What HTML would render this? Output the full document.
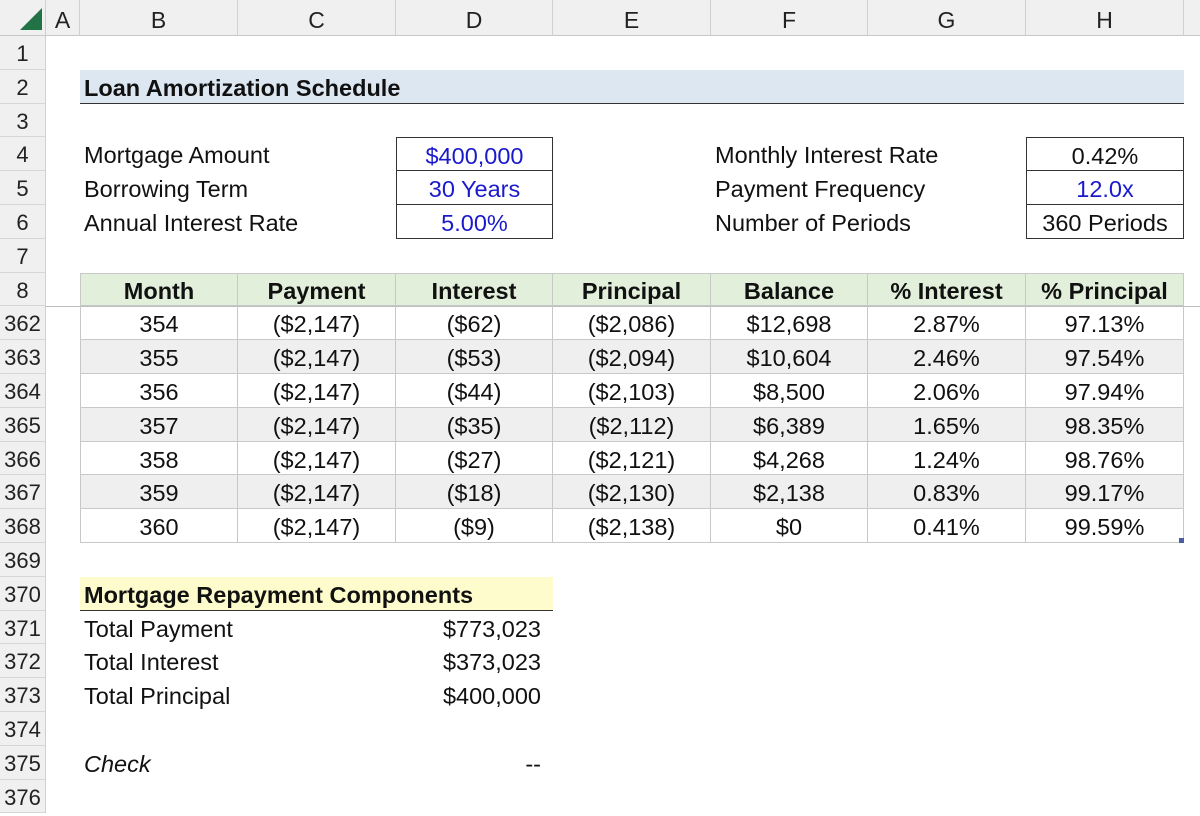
<!DOCTYPE html>
<html><head><meta charset="utf-8"><style>
*{margin:0;padding:0;box-sizing:border-box}
body{width:1200px;height:784px;overflow:hidden;background:#fff;position:relative;font-family:"Liberation Sans",Arial,sans-serif;color:#111}
div{position:absolute}
.c{height:33.8px;line-height:36px;font-size:23.5px;white-space:nowrap}
.ctr{text-align:center}.rt{text-align:right;padding-right:12px}.lf{padding-left:4px}
.b{font-weight:bold}.blue{color:#1a1acc}
.rh{left:0;width:46px;text-align:center;font-size:22px;color:#222;height:33.8px;line-height:36px;background:#f0f0f0;border-bottom:1px solid #d6d6d6;border-right:1px solid #cfcfcf}
.ch{top:0;height:36px;line-height:40px;text-align:center;font-size:23px;background:#f0f0f0;border-right:1px solid #d0d0d0;border-bottom:1px solid #c8c8c8;color:#222}
.box{border:1px solid #333}
.tr{left:80px;width:1104px;height:33.8px}
.g{border-right:1px solid #c8c8c8;border-bottom:1px solid #c8c8c8}
</style></head><body>
<div class="ch" style="left:0;width:46px"></div>
<div style="left:20px;top:8px;width:0;height:0;border-left:22px solid transparent;border-bottom:22px solid #217346"></div>
<div class="ch" style="left:46px;width:34px">A</div>
<div class="ch" style="left:80px;width:158px">B</div>
<div class="ch" style="left:238px;width:158px">C</div>
<div class="ch" style="left:396px;width:157px">D</div>
<div class="ch" style="left:553px;width:158px">E</div>
<div class="ch" style="left:711px;width:157px">F</div>
<div class="ch" style="left:868px;width:158px">G</div>
<div class="ch" style="left:1026px;width:158px">H</div>
<div class="ch" style="left:1184px;width:16px;border-right:none"></div>

<div class="rh" style="top:36px">1</div>
<div class="rh" style="top:69.8px">2</div>
<div class="rh" style="top:103.6px">3</div>
<div class="rh" style="top:137.4px">4</div>
<div class="rh" style="top:171.2px">5</div>
<div class="rh" style="top:205px">6</div>
<div class="rh" style="top:238.8px">7</div>
<div class="rh" style="top:272.6px">8</div>
<div class="rh" style="top:306.4px">362</div>
<div class="rh" style="top:340.2px">363</div>
<div class="rh" style="top:374px">364</div>
<div class="rh" style="top:407.8px">365</div>
<div class="rh" style="top:441.6px">366</div>
<div class="rh" style="top:475.4px">367</div>
<div class="rh" style="top:509.2px">368</div>
<div class="rh" style="top:543px">369</div>
<div class="rh" style="top:576.8px">370</div>
<div class="rh" style="top:610.6px">371</div>
<div class="rh" style="top:644.4px">372</div>
<div class="rh" style="top:678.2px">373</div>
<div class="rh" style="top:712px">374</div>
<div class="rh" style="top:745.8px">375</div>
<div class="rh" style="top:779.6px">376</div>

<div style="left:46px;top:306px;width:1154px;height:1px;background:#bdbdbd"></div>

<div class="c b" style="left:80px;top:69.8px;width:1104px;background:#dde7f2;border-bottom:1px solid #333;padding-left:4px">Loan Amortization Schedule</div>

<div class="c lf" style="left:80px;top:137.4px">Mortgage Amount</div>
<div class="c lf" style="left:80px;top:171.2px">Borrowing Term</div>
<div class="c lf" style="left:80px;top:205px">Annual Interest Rate</div>
<div class="c ctr blue box" style="left:396px;top:137.4px;width:157px">$400,000</div>
<div class="c ctr blue box" style="left:396px;top:171.2px;width:157px;border-top:none">30 Years</div>
<div class="c ctr blue box" style="left:396px;top:205px;width:157px;border-top:none">5.00%</div>

<div class="c lf" style="left:711px;top:137.4px">Monthly Interest Rate</div>
<div class="c lf" style="left:711px;top:171.2px">Payment Frequency</div>
<div class="c lf" style="left:711px;top:205px">Number of Periods</div>
<div class="c ctr box" style="left:1026px;top:137.4px;width:158px">0.42%</div>
<div class="c ctr blue box" style="left:1026px;top:171.2px;width:158px;border-top:none">12.0x</div>
<div class="c ctr box" style="left:1026px;top:205px;width:158px;border-top:none">360 Periods</div>

<div style="left:80px;top:272.6px;width:1104px;height:33.8px;background:#e2efda;border-top:1px solid #c8c8c8"></div>
<div class="c b ctr g" style="left:80px;top:272.6px;width:158px;border-left:1px solid #c8c8c8">Month</div>
<div class="c b ctr g" style="left:238px;top:272.6px;width:158px">Payment</div>
<div class="c b ctr g" style="left:396px;top:272.6px;width:157px">Interest</div>
<div class="c b ctr g" style="left:553px;top:272.6px;width:158px">Principal</div>
<div class="c b ctr g" style="left:711px;top:272.6px;width:157px">Balance</div>
<div class="c b ctr g" style="left:868px;top:272.6px;width:158px">% Interest</div>
<div class="c b ctr g" style="left:1026px;top:272.6px;width:158px">% Principal</div>

<div class="tr" style="top:340.2px;background:#efefef"></div>
<div class="tr" style="top:407.8px;background:#efefef"></div>
<div class="tr" style="top:475.4px;background:#efefef"></div>

<div class="c ctr g" style="left:80px;top:306.4px;width:158px;border-left:1px solid #c8c8c8">354</div>
<div class="c ctr g" style="left:238px;top:306.4px;width:158px">($2,147)</div>
<div class="c ctr g" style="left:396px;top:306.4px;width:157px">($62)</div>
<div class="c ctr g" style="left:553px;top:306.4px;width:158px">($2,086)</div>
<div class="c ctr g" style="left:711px;top:306.4px;width:157px">$12,698</div>
<div class="c ctr g" style="left:868px;top:306.4px;width:158px">2.87%</div>
<div class="c ctr g" style="left:1026px;top:306.4px;width:158px">97.13%</div>

<div class="c ctr g" style="left:80px;top:340.2px;width:158px;border-left:1px solid #c8c8c8">355</div>
<div class="c ctr g" style="left:238px;top:340.2px;width:158px">($2,147)</div>
<div class="c ctr g" style="left:396px;top:340.2px;width:157px">($53)</div>
<div class="c ctr g" style="left:553px;top:340.2px;width:158px">($2,094)</div>
<div class="c ctr g" style="left:711px;top:340.2px;width:157px">$10,604</div>
<div class="c ctr g" style="left:868px;top:340.2px;width:158px">2.46%</div>
<div class="c ctr g" style="left:1026px;top:340.2px;width:158px">97.54%</div>

<div class="c ctr g" style="left:80px;top:374px;width:158px;border-left:1px solid #c8c8c8">356</div>
<div class="c ctr g" style="left:238px;top:374px;width:158px">($2,147)</div>
<div class="c ctr g" style="left:396px;top:374px;width:157px">($44)</div>
<div class="c ctr g" style="left:553px;top:374px;width:158px">($2,103)</div>
<div class="c ctr g" style="left:711px;top:374px;width:157px">$8,500</div>
<div class="c ctr g" style="left:868px;top:374px;width:158px">2.06%</div>
<div class="c ctr g" style="left:1026px;top:374px;width:158px">97.94%</div>

<div class="c ctr g" style="left:80px;top:407.8px;width:158px;border-left:1px solid #c8c8c8">357</div>
<div class="c ctr g" style="left:238px;top:407.8px;width:158px">($2,147)</div>
<div class="c ctr g" style="left:396px;top:407.8px;width:157px">($35)</div>
<div class="c ctr g" style="left:553px;top:407.8px;width:158px">($2,112)</div>
<div class="c ctr g" style="left:711px;top:407.8px;width:157px">$6,389</div>
<div class="c ctr g" style="left:868px;top:407.8px;width:158px">1.65%</div>
<div class="c ctr g" style="left:1026px;top:407.8px;width:158px">98.35%</div>

<div class="c ctr g" style="left:80px;top:441.6px;width:158px;border-left:1px solid #c8c8c8">358</div>
<div class="c ctr g" style="left:238px;top:441.6px;width:158px">($2,147)</div>
<div class="c ctr g" style="left:396px;top:441.6px;width:157px">($27)</div>
<div class="c ctr g" style="left:553px;top:441.6px;width:158px">($2,121)</div>
<div class="c ctr g" style="left:711px;top:441.6px;width:157px">$4,268</div>
<div class="c ctr g" style="left:868px;top:441.6px;width:158px">1.24%</div>
<div class="c ctr g" style="left:1026px;top:441.6px;width:158px">98.76%</div>

<div class="c ctr g" style="left:80px;top:475.4px;width:158px;border-left:1px solid #c8c8c8">359</div>
<div class="c ctr g" style="left:238px;top:475.4px;width:158px">($2,147)</div>
<div class="c ctr g" style="left:396px;top:475.4px;width:157px">($18)</div>
<div class="c ctr g" style="left:553px;top:475.4px;width:158px">($2,130)</div>
<div class="c ctr g" style="left:711px;top:475.4px;width:157px">$2,138</div>
<div class="c ctr g" style="left:868px;top:475.4px;width:158px">0.83%</div>
<div class="c ctr g" style="left:1026px;top:475.4px;width:158px">99.17%</div>

<div class="c ctr g" style="left:80px;top:509.2px;width:158px;border-left:1px solid #c8c8c8">360</div>
<div class="c ctr g" style="left:238px;top:509.2px;width:158px">($2,147)</div>
<div class="c ctr g" style="left:396px;top:509.2px;width:157px">($9)</div>
<div class="c ctr g" style="left:553px;top:509.2px;width:158px">($2,138)</div>
<div class="c ctr g" style="left:711px;top:509.2px;width:157px">$0</div>
<div class="c ctr g" style="left:868px;top:509.2px;width:158px">0.41%</div>
<div class="c ctr g" style="left:1026px;top:509.2px;width:158px">99.59%</div>
<div style="left:1179px;top:538px;width:5px;height:5px;background:#4a5ea8"></div>

<div class="c b lf" style="left:80px;top:576.8px;width:473px;background:#fefccc;border-bottom:1px solid #333">Mortgage Repayment Components</div>
<div class="c lf" style="left:80px;top:610.6px">Total Payment</div>
<div class="c lf" style="left:80px;top:644.4px">Total Interest</div>
<div class="c lf" style="left:80px;top:678.2px">Total Principal</div>
<div class="c lf" style="left:80px;top:745.8px;font-style:italic">Check</div>
<div class="c rt" style="left:396px;top:610.6px;width:157px">$773,023</div>
<div class="c rt" style="left:396px;top:644.4px;width:157px">$373,023</div>
<div class="c rt" style="left:396px;top:678.2px;width:157px">$400,000</div>
<div class="c rt" style="left:396px;top:745.8px;width:157px">--</div>
</body></html>
